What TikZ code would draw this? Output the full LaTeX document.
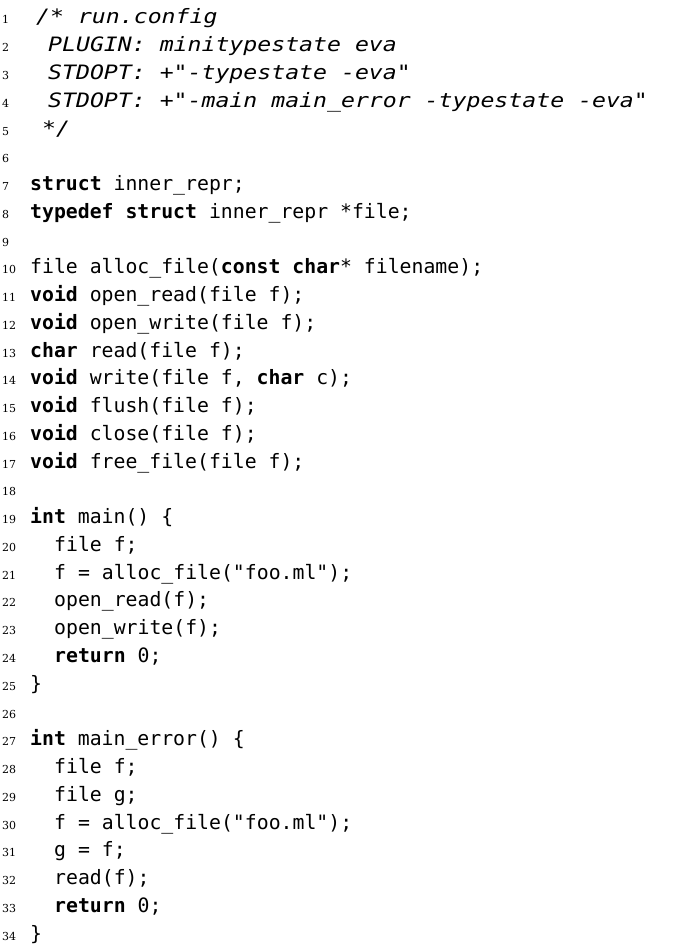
\documentclass[tikz,border=0pt]{standalone}
\usepackage{fontspec}
\usepackage{graphicx}
\newfontfamily\code{DejaVu Sans Mono}
\newfontfamily\numf{DejaVu Serif}
\newcommand\cmtxt[1]{\scalebox{1.17}[1]{\itshape #1}}
\begin{document}
\begin{tikzpicture}[x=1pt,y=-1pt,
  ln/.style={anchor=base west,inner sep=0pt,font=\numf\fontsize{11}{11}\selectfont},
  cl/.style={anchor=base west,inner sep=0pt,font=\code\fontsize{19.8}{20}\selectfont}]
\useasboundingbox (0,0) rectangle (685,949);
\def\Y#1{24+(#1-1)*27.76}
\foreach \n in {1,...,34}{\node[ln] (n\n) at (2,{\Y{\n}}) {\n};}
\node[cl] (c1) at (36,{\Y{1}}) {\cmtxt{/* run.config}};
\node[cl] (c2) at (48,{\Y{2}}) {\cmtxt{PLUGIN: minitypestate eva}};
\node[cl] (c3) at (48,{\Y{3}}) {\cmtxt{STDOPT: +"-typestate -eva"}};
\node[cl] (c4) at (48,{\Y{4}}) {\cmtxt{STDOPT: +"-main main\_error -typestate -eva"}};
\node[cl] (c5) at (42,{\Y{5}}) {\cmtxt{*/}};
\node[cl] (c7) at (30,{\Y{7}}) {\textbf{struct} inner\_repr;};
\node[cl] (c8) at (30,{\Y{8}}) {\textbf{typedef} \textbf{struct} inner\_repr *file;};
\node[cl] (c10) at (30,{\Y{10}}) {file alloc\_file(\textbf{const} \textbf{char}* filename);};
\node[cl] (c11) at (30,{\Y{11}}) {\textbf{void} open\_read(file f);};
\node[cl] (c12) at (30,{\Y{12}}) {\textbf{void} open\_write(file f);};
\node[cl] (c13) at (30,{\Y{13}}) {\textbf{char} read(file f);};
\node[cl] (c14) at (30,{\Y{14}}) {\textbf{void} write(file f, \textbf{char} c);};
\node[cl] (c15) at (30,{\Y{15}}) {\textbf{void} flush(file f);};
\node[cl] (c16) at (30,{\Y{16}}) {\textbf{void} close(file f);};
\node[cl] (c17) at (30,{\Y{17}}) {\textbf{void} free\_file(file f);};
\node[cl] (c19) at (30,{\Y{19}}) {\textbf{int} main() \{};
\node[cl] (c20) at (54,{\Y{20}}) {file f;};
\node[cl] (c21) at (54,{\Y{21}}) {f = alloc\_file("foo.ml");};
\node[cl] (c22) at (54,{\Y{22}}) {open\_read(f);};
\node[cl] (c23) at (54,{\Y{23}}) {open\_write(f);};
\node[cl] (c24) at (54,{\Y{24}}) {\textbf{return} 0;};
\node[cl] (c25) at (30,{\Y{25}}) {\}};
\node[cl] (c27) at (30,{\Y{27}}) {\textbf{int} main\_error() \{};
\node[cl] (c28) at (54,{\Y{28}}) {file f;};
\node[cl] (c29) at (54,{\Y{29}}) {file g;};
\node[cl] (c30) at (54,{\Y{30}}) {f = alloc\_file("foo.ml");};
\node[cl] (c31) at (54,{\Y{31}}) {g = f;};
\node[cl] (c32) at (54,{\Y{32}}) {read(f);};
\node[cl] (c33) at (54,{\Y{33}}) {\textbf{return} 0;};
\node[cl] (c34) at (30,{\Y{34}}) {\}};
\end{tikzpicture}
\end{document}
